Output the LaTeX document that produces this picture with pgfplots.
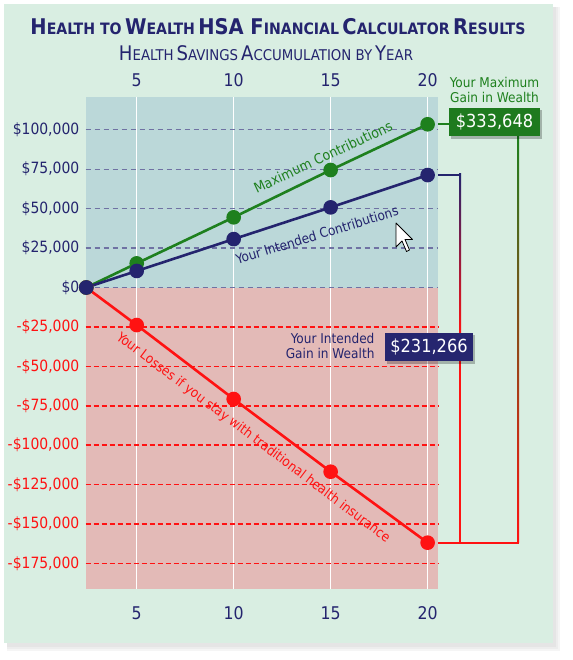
\documentclass[border=0pt]{standalone}
\usepackage{pgfplots}
\pgfplotsset{compat=1.18}
\usepackage{fontspec}
\setmainfont{DejaVu Sans Condensed}
\definecolor{panel}{HTML}{D9EEE2}
\definecolor{upper}{HTML}{BBD8D9}
\definecolor{lower}{HTML}{E3BAB7}
\definecolor{navy}{HTML}{24246E}
\definecolor{grn}{HTML}{1E801E}
\definecolor{rd}{HTML}{FF1212}
\definecolor{navygrid}{HTML}{6F72A3}
\definecolor{boxgreen}{HTML}{1E7A1E}
\definecolor{boxnavy}{HTML}{26266F}
\newcommand\TB[1]{{\fontsize{20}{20}\selectfont #1}}
\newcommand\TS[1]{{\fontsize{14.5}{14.5}\selectfont #1}}
\newcommand\SubB[1]{{\fontsize{19}{19}\selectfont #1}}
\newcommand\SubS[1]{{\fontsize{14}{14}\selectfont #1}}
\begin{document}
\begin{tikzpicture}[x=1pt,y=1pt]
\useasboundingbox (0,0) rectangle (572,660);
\fill[white] (0,0) rectangle (572,660);
% panel shadow
\fill[black!4] (7,9) rectangle (560,653);
\fill[black!7] (7,11) rectangle (558,653);
\fill[black!10] (7,13) rectangle (556,653);
\fill[panel] (4,17) rectangle (553,656);
% titles
\node[anchor=base, text=navy, inner sep=0pt] at (278,625) {\resizebox{495pt}{!}{\bfseries\TB{H}\TS{EALTH TO} \TB{W}\TS{EALTH} \TB{HSA F}\TS{INANCIAL} \TB{C}\TS{ALCULATOR} \TB{R}\TS{ESULTS}}};
\node[anchor=base, text=navy, inner sep=0pt] at (266,599.3) {\resizebox{294pt}{!}{\SubB{H}\SubS{EALTH} \SubB{S}\SubS{AVINGS} \SubB{A}\SubS{CCUMULATION BY} \SubB{Y}\SubS{EAR}}};
\begin{axis}[
  at={(85.5pt,70.7pt)}, anchor=south west,
  width=352.2pt, height=492.3pt, scale only axis,
  xmin=2.36, xmax=20.52, ymin=-191350, ymax=120800,
  axis line style={draw=none}, major tick length=0pt,
  xtick={5,10,15,20}, xticklabels={5,10,15,20},
  xticklabel style={font=\fontsize{17.5}{17.5}\selectfont, text=navy, anchor=north, inner sep=0pt, yshift=-17.4pt},
  ytick={-175000,-150000,-125000,-100000,-75000,-50000,-25000,0,25000,50000,75000,100000},
  yticklabels={{\textcolor{rd}{-\$175,000}},{\textcolor{rd}{-\$150,000}},{\textcolor{rd}{-\$125,000}},{\textcolor{rd}{-\$100,000}},{\textcolor{rd}{-\$75,000}},{\textcolor{rd}{-\$50,000}},{\textcolor{rd}{-\$25,000}},{\textcolor{navy}{\$0}},{\textcolor{navy}{\$25,000}},{\textcolor{navy}{\$50,000}},{\textcolor{navy}{\$75,000}},{\textcolor{navy}{\$100,000}}},
  yticklabel style={font=\fontsize{15.5}{15.5}\selectfont, anchor=east, inner sep=0pt, xshift=-6pt},
  scaled y ticks=false,
  clip=false,
]
\fill[upper] (axis cs:2.36,0) rectangle (axis cs:20.52,120800);
\fill[lower] (axis cs:2.36,-191350) rectangle (axis cs:20.52,0);
\pgfplotsinvokeforeach{5,10,15,20}{\draw[white, line width=1.3pt] (axis cs:#1,-191350) -- (axis cs:#1,120800);}
\pgfplotsinvokeforeach{0,25000,50000,75000,100000}{\draw[navygrid, line width=1.2pt, dash pattern=on 5pt off 4pt] (axis cs:2.36,#1) -- (axis cs:20.52,#1);}
\pgfplotsinvokeforeach{-25000,-50000,-75000,-100000,-125000,-150000,-175000}{\draw[rd, line width=1.6pt, dash pattern=on 5pt off 3pt] (axis cs:2.36,#1) -- (axis cs:20.52,#1);}
\addplot[rd, line width=2.6pt, mark=*, mark size=6pt, mark options={draw=none, fill=rd}] coordinates {(2.4,0)(5,-23800)(10,-70700)(15,-116800)(20,-161800)};
\addplot[grn, line width=2.6pt, mark=*, mark size=6pt, mark options={draw=none, fill=grn}] coordinates {(2.4,0)(5,15300)(10,44500)(15,74500)(20,103500)};
\addplot[navy, line width=2.6pt, mark=*, mark size=6pt, mark options={draw=none, fill=navy}] coordinates {(2.4,0)(5,10500)(10,30700)(15,50800)(20,71300)};
\end{axis}
\begin{axis}[
  at={(85.5pt,70.7pt)}, anchor=south west,
  width=352.2pt, height=492.3pt, scale only axis,
  xmin=2.36, xmax=20.52, ymin=-191350, ymax=120800,
  hide y axis, axis line style={draw=none}, major tick length=0pt,
  xtick={5,10,15,20}, xticklabels={5,10,15,20},
  xticklabel pos=upper,
  xticklabel style={font=\fontsize{17.5}{17.5}\selectfont, text=navy, anchor=south, inner sep=0pt, yshift=9.7pt},
]
\addplot[draw=none] coordinates {(5,0)(20,0)};
\end{axis}
% rotated labels
\node[rotate=25, text=grn, font=\fontsize{14}{14}\selectfont] at (323,503) {Maximum Contributions};
\node[rotate=17, text=navy, font=\fontsize{13.5}{13.5}\selectfont] at (317,425) {Your Intended Contributions};
\node[rotate=-37, text=rd, font=\fontsize{13.5}{13.5}\selectfont] at (253,222) {Your Losses if you stay with traditional health insurance};
% cursor
\filldraw[fill=white, draw=black, line width=0.8pt, line join=round] (396,437) -- ++(0,-24) -- ++(6,6) -- ++(4.5,-10.5) -- ++(3,1.5) -- ++(-4.5,10.5) -- ++(7.5,0) -- cycle;
% connectors
\draw[grn, line width=2pt] (438,536) -- (449,536);
\shade[top color=grn, bottom color=rd] (517,117) rectangle (519,524);
\draw[navy, line width=2pt] (438,485) -- (461,485);
\shade[top color=navy, bottom color=rd] (459,327) rectangle (461,486);
\draw[rd, line width=2pt] (460,299) -- (460,117);
\draw[rd, line width=2pt] (438,117) -- (519,117);
% gain boxes
\node[text=grn, align=center, font=\fontsize{13.5}{14.5}\selectfont] at (494.5,570) {Your Maximum\\Gain in Wealth};
\fill[black, opacity=0.25] (451,521) rectangle (542,550);
\fill[boxgreen] (449,524) rectangle (540,552);
\node[text=white, font=\fontsize{18}{18}\selectfont] at (494.5,538) {\$333,648};
\node[text=navy, anchor=east, align=right, font=\fontsize{13.5}{15}\selectfont] at (378,314.5) {Your Intended\\Gain in Wealth};
\fill[black, opacity=0.25] (387,296) rectangle (475,325);
\fill[boxnavy] (385,299) rectangle (473,327);
\node[text=white, font=\fontsize{18}{18}\selectfont] at (429,313) {\$231,266};
\end{tikzpicture}
\end{document}
